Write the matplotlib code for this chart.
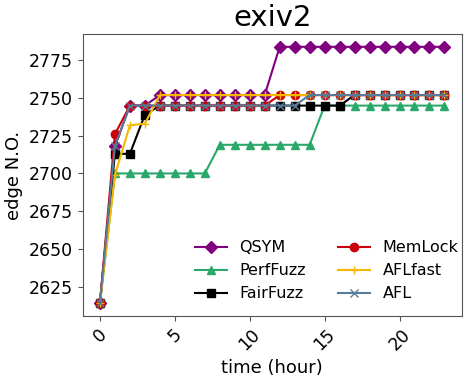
import numpy as np
import matplotlib
matplotlib.use('Agg')
import matplotlib.pyplot as plt

hours = np.arange(24)

qsym     = [2614, 2718, 2745, 2745] + [2752]*8 + [2784]*12
perffuzz = [2614] + [2700]*7 + [2719]*7 + [2745]*9
fairfuzz = [2614, 2713, 2713, 2739] + [2745]*13 + [2752]*7
memlock  = [2614, 2726, 2745, 2745] + [2745]*8 + [2752]*12
aflfast  = [2614, 2699, 2732, 2733] + [2752]*20
afl      = [2614, 2718, 2745, 2745] + [2745]*10 + [2752]*10

series = [
    ('QSYM', qsym, '#800080', 'D'),
    ('PerfFuzz', perffuzz, '#2aa86a', '^'),
    ('FairFuzz', fairfuzz, 'black', 's'),
    ('MemLock', memlock, '#c8000a', 'o'),
    ('AFLfast', aflfast, '#f5b800', '+'),
    ('AFL', afl, '#5a7b98', 'x'),
]

fig = plt.figure(figsize=(4.74, 3.82), dpi=100)
ax = fig.add_axes([0.1745, 0.173, 0.7995, 0.738])

for name, vals, col, mk in series:
    ax.plot(hours, vals, color=col, marker=mk, markersize=6, linewidth=1.5, label=name)

ax.set_title('exiv2', fontsize=21)
ax.set_xlabel('time (hour)', fontsize=13)
ax.set_ylabel('edge N.O.', fontsize=13)
ax.set_xticks([0, 5, 10, 15, 20])
ax.tick_params(labelsize=12.5, color='#555555')
plt.setp(ax.get_xticklabels(), rotation=45)
for s in ax.spines.values():
    s.set_color('#555555')

ax.legend(ncol=2, loc='lower right', bbox_to_anchor=(1.0, 0.04), frameon=False,
          fontsize=11.5, handlelength=2.0, handletextpad=0.8, columnspacing=2.0,
          labelspacing=0.5, borderpad=0.2, borderaxespad=0)

fig.savefig('out.png')
